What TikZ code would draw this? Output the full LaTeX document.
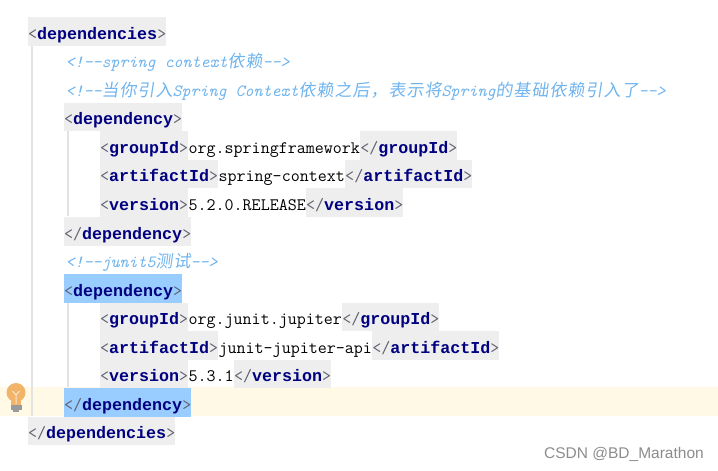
\documentclass[tikz,border=0pt]{standalone}
\usepackage{fontspec}
\setmonofont{Latin Modern Mono}
\newfontfamily\boldfont{Liberation Mono}
\newfontfamily\cjkfont[FakeSlant=0.15,LetterSpace=5.9]{Noto Sans CJK SC}
\newfontfamily\markfont{Liberation Sans}
\definecolor{tagbg}{HTML}{EEEEEE}
\definecolor{selbg}{HTML}{99CCFF}
\definecolor{linebg}{HTML}{FFF9E6}
\definecolor{guide}{HTML}{E3E3E3}
\definecolor{tagname}{HTML}{000080}
\definecolor{bracket}{HTML}{606070}
\definecolor{comment}{HTML}{70B4EE}
\definecolor{bulb}{HTML}{F2B468}
\definecolor{bulbbase}{HTML}{9A9A9A}
\newcommand{\brk}[1]{{\fontsize{17.5}{17.5}\selectfont\color{bracket}#1}}
\newcommand{\nm}[1]{{\boldfont\fontsize{16.67}{16.67}\selectfont\bfseries\color{tagname}#1}}
\newcommand{\opentag}[1]{\brk{<}\nm{#1}\brk{>}}
\newcommand{\closetag}[1]{\brk{</}\nm{#1}\brk{>}}
\newcommand{\cn}[1]{{\cjkfont\fontsize{17}{17}\selectfont #1}}
\tikzset{
  row/.style={anchor=base west, inner sep=0pt, text height=22pt, text depth=6.6pt, font=\ttfamily\fontsize{17.5}{17.5}\selectfont},
  tagbox/.style={row, fill=tagbg},
  selbox/.style={row, fill=selbg},
  cmt/.style={row, text=comment, font=\ttfamily\itshape\fontsize{17.14}{17.14}\selectfont},
  guideline/.style={guide, line width=2pt},
}
\begin{document}
\begin{tikzpicture}[x=1pt,y=-1pt]
\useasboundingbox (0,0) rectangle (718,471);
% bands and indent guides
\fill[linebg] (0,387) rectangle (718,416);
\draw[guideline] (32,45) -- (32,416);
\draw[guideline] (68,131) -- (68,216);
\draw[guideline] (68,302) -- (68,387);
% outer tag
\node[tagbox] (depsopen) at (28,39) {\opentag{dependencies}};
% comments
\node[cmt] (cmtone) at (65.5,67.6) {<!--spring context\cn{依赖}-->};
\node[cmt] (cmttwo) at (65.5,96.1) {<!--\cn{当你引入}Spring Context\cn{依赖之后，表示将}Spring\cn{的基础依赖引入了}-->};
% first dependency
\node[tagbox] (depone) at (64,124.7) {\opentag{dependency}};
\node[tagbox] (grpone) at (100,153.3) {\opentag{groupId}};
\node[row] (grponeval) at (grpone.base east) {org.springframework};
\node[tagbox] (grponeend) at (grponeval.base east) {\closetag{groupId}};
\node[tagbox] (artone) at (100,181.8) {\opentag{artifactId}};
\node[row] (artoneval) at (artone.base east) {spring-context};
\node[tagbox] (artoneend) at (artoneval.base east) {\closetag{artifactId}};
\node[tagbox] (verone) at (100,210.4) {\opentag{version}};
\node[row] (veroneval) at (verone.base east) {5.2.0.RELEASE};
\node[tagbox] (veroneend) at (veroneval.base east) {\closetag{version}};
\node[tagbox] (deponeend) at (64,239) {\closetag{dependency}};
\node[cmt] (cmtthree) at (65.5,267.5) {<!--junit5\cn{测试}-->};
% second dependency
\node[selbox] (deptwo) at (64,296) {\opentag{dependency}};
\node[tagbox] (grptwo) at (100,324.6) {\opentag{groupId}};
\node[row] (grptwoval) at (grptwo.base east) {org.junit.jupiter};
\node[tagbox] (grptwoend) at (grptwoval.base east) {\closetag{groupId}};
\node[tagbox] (arttwo) at (100,353.1) {\opentag{artifactId}};
\node[row] (arttwoval) at (arttwo.base east) {junit-jupiter-api};
\node[tagbox] (arttwoend) at (arttwoval.base east) {\closetag{artifactId}};
\node[tagbox] (vertwo) at (100,381.7) {\opentag{version}};
\node[row] (vertwoval) at (vertwo.base east) {5.3.1};
\node[tagbox] (vertwoend) at (vertwoval.base east) {\closetag{version}};
\node[selbox] (deptwoend) at (64,410.2) {\closetag{dependency}};
\node[tagbox] (depsend) at (28,438.8) {\closetag{dependencies}};
% bulb
\fill[bulb] (16,392.5) circle (9.5);
\fill[bulb] (11,398) rectangle (21,405);
\draw[white!65!bulb, line width=1pt] (12.5,391) -- (16,395) -- (19.5,391) (16,395) -- (16,404);
\fill[bulbbase] (10.5,405) rectangle (21.5,410);
\fill[bulbbase] (13,410) rectangle (19,412);
% watermark
\node[anchor=base east, inner sep=0pt, text=black!45, font=\markfont\fontsize{15.5}{15.5}\selectfont] (mark) at (704,458) {CSDN @BD\_Marathon};
\end{tikzpicture}
\end{document}
